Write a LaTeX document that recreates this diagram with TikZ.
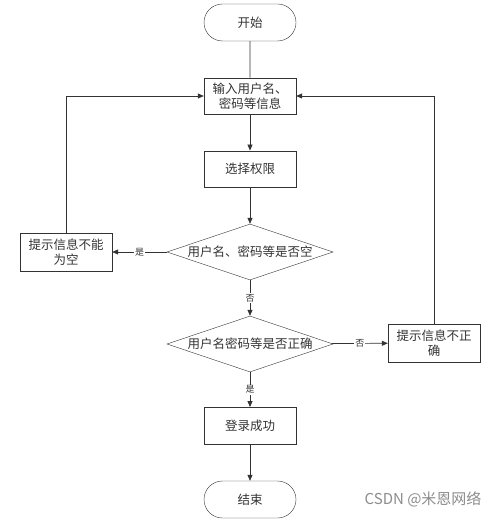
\documentclass[tikz,border=0pt]{standalone}
\usepackage{fontspec}
\newfontfamily\cjk{Noto Sans CJK SC}
\usetikzlibrary{arrows.meta,shapes.geometric,shapes.misc}
\begin{document}
\begin{tikzpicture}[x=1pt,y=-1pt,
  every node/.style={font=\cjk\fontsize{12.5}{15}\selectfont, text=black!80},
  term/.style={draw=black!80, rounded rectangle, minimum width=92pt, minimum height=37pt, inner sep=0pt},
  proc/.style={draw=black!80, rectangle, minimum width=92pt, minimum height=36.5pt, inner sep=1pt, align=center},
  proc2/.style={draw=black!80, rectangle, minimum width=92pt, minimum height=38pt, inner sep=1pt, align=center, text width=88pt},
  dec/.style={draw=black!80, diamond, minimum width=166pt, minimum height=56pt, aspect=2.96, inner sep=0pt},
  lab/.style={fill=white, font=\cjk\fontsize{9}{10}\selectfont, inner sep=1pt},
  arr/.style={draw=black!80, line width=0.7pt, -{Triangle[length=6pt,width=5pt]}},
  ln/.style={draw=black!80, line width=0.7pt}
]
\useasboundingbox (0,0) rectangle (499,521);
\node[term] (start) at (250,22.5) {开始};
\node[proc, align=center] (input) at (250,96) {输入用户名、\\密码等信息};
\node[proc] (sel) at (250,169) {选择权限};
\node[dec] (d1) at (250,252) {用户名、密码等是否空};
\node[proc2] (empty) at (66,252) {提示信息不能\\为空};
\node[dec] (d2) at (250,344) {用户名密码等是否正确};
\node[proc2] (wrong) at (434,343) {提示信息不正\\确};
\node[proc] (ok) at (250,425.5) {登录成功};
\node[term] (end) at (250,499.5) {结束};
\node[text=black!45, font=\cjk\fontsize{15}{17}\selectfont, anchor=east] (wm) at (485,499) {CSDN @米恩网络};

\draw[ln] (start) -- (input);
\draw[arr] (input) -- (sel);
\draw[arr] (sel) -- (d1);
\draw[arr] (d1) -- node[lab] {是} (empty);
\draw[arr] (d1) -- node[lab] {否} (d2);
\draw[arr] (d2) -- node[lab] {否} (wrong);
\draw[arr] (d2) -- node[lab] {是} (ok);
\draw[arr] (ok) -- (end);
\draw[arr] (empty.north) |- (input.west);
\draw[arr] (wrong.north) |- (input.east);
\end{tikzpicture}
\end{document}
